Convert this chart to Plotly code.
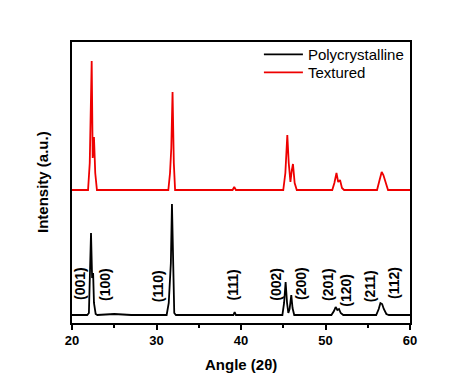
import plotly.graph_objects as go

# ---- data (intensity in arbitrary units, offset already applied) ----
poly_angle = [20.0, 21.0, 21.8, 22.0, 22.1, 22.25, 22.38, 22.5, 22.6, 22.8, 23.0, 25.0, 27.0,
              29.0, 31.2, 31.45, 31.6, 31.7, 31.83, 31.95, 32.1, 32.3, 35.0, 37.0, 39.1, 39.25,
              39.4, 42.0, 44.9, 45.1, 45.28, 45.45, 45.6, 45.75, 45.95, 46.1, 46.3, 48.0,
              50.7, 51.0, 51.2, 51.4, 51.6, 51.8, 52.1, 54.0, 56.0, 56.3, 56.5, 56.7, 56.9,
              57.2, 57.5, 59.0, 60.0]
poly_int = [8, 8, 8, 10, 40, 90, 45, 50, 20, 9, 8, 9, 8,
            8, 8, 20, 38, 60, 119, 50, 10, 8, 8, 8, 8, 11,
            8, 8, 8, 20, 41, 20, 10, 14, 28, 15, 8, 8,
            8, 12, 16, 13, 14, 10, 8, 8, 8, 14, 20, 19, 14,
            9, 8, 8, 8]

tex_angle = [20.0, 21.0, 21.9, 22.1, 22.33, 22.45, 22.6, 22.75, 22.95, 25.0, 28.0,
             31.4, 31.6, 31.75, 31.9, 32.05, 32.2, 35.0, 39.0, 39.2, 39.4, 42.0,
             45.0, 45.25, 45.48, 45.65, 45.85, 46.0, 46.15, 46.35, 46.6, 48.5,
             50.8, 51.05, 51.3, 51.5, 51.72, 51.95, 52.2, 54.0,
             56.1, 56.4, 56.65, 56.85, 57.1, 57.4, 57.7, 60.0]
tex_int = [133, 133, 133, 160, 262, 165, 186, 150, 133, 133, 133,
           133, 150, 175, 231, 160, 133, 133, 133, 136, 133, 133,
           133, 150, 188, 160, 141, 152, 159, 140, 133, 133,
           133, 140, 150, 141, 143, 135, 133, 133,
           133, 143, 151, 148, 140, 133, 133, 133]

hkl_labels = ["(001)", "(100)", "(110)", "(111)", "(002)", "(200)",
              "(201)", "(120)", "(211)", "(112)"]
hkl_angle = [20.95, 23.9, 30.2, 39.1, 44.1, 47.1, 50.3, 52.4, 55.3, 58.1]
hkl_level = [39, 39, 37, 38, 39, 39, 38, 33, 37, 40]

x_ticks = [20, 30, 40, 50, 60]

FONT = "Arial, Liberation Sans"

fig = go.Figure()
fig.add_trace(go.Scatter(x=poly_angle, y=poly_int, mode="lines", name="Polycrystalline",
                         line=dict(color="black", width=1.8), legend="legend", showlegend=True))
fig.add_trace(go.Scatter(x=tex_angle, y=tex_int, mode="lines", name="Textured",
                         line=dict(color="#ee0000", width=1.8), legend="legend2", showlegend=True))

for lab, ang, lev in zip(hkl_labels, hkl_angle, hkl_level):
    fig.add_annotation(x=ang, y=lev, text=lab, textangle=-90, showarrow=False,
                       font=dict(family=FONT, size=14, color="black", weight="bold"))

fig.add_annotation(text="Angle (2θ)", xref="paper", yref="paper", x=0.5, y=0,
                   xanchor="center", yanchor="top", yshift=-31, showarrow=False,
                   font=dict(family=FONT, size=15, color="black", weight="bold"))
fig.add_annotation(text="Intensity (a.u.)", xref="paper", yref="paper", x=0, y=0.5,
                   xanchor="right", yanchor="middle", xshift=-19, textangle=-90, showarrow=False,
                   font=dict(family=FONT, size=15, color="black", weight="bold"))

leg_common = dict(xanchor="left", yanchor="top", bgcolor="rgba(0,0,0,0)",
                  font=dict(size=15, family=FONT, color="black"), itemwidth=39, visible=True)

fig.update_layout(
    width=474, height=377,
    showlegend=True,
    margin=dict(l=64, r=72, t=34, b=62),
    paper_bgcolor="white", plot_bgcolor="white",
    font=dict(family=FONT, color="black"),
    legend=dict(x=0.553, y=1.014, **leg_common),
    legend2=dict(x=0.553, y=1.014 - 18 / 281, **leg_common),
    xaxis=dict(range=[20, 60], tickvals=x_ticks, showgrid=False, zeroline=False,
               showline=True, linecolor="black", linewidth=1.5, mirror=True,
               ticks="outside", ticklen=5, tickwidth=1.5, tickcolor="black",
               minor=dict(ticks="outside", dtick=5, ticklen=3, tickwidth=1.5, tickcolor="black"),
               tickfont=dict(size=13, weight="bold", family=FONT)),
    yaxis=dict(range=[0, 281], showgrid=False, zeroline=False, showticklabels=False,
               showline=True, linecolor="black", linewidth=1.5, mirror=True, ticks=""),
)

fig.write_html("out.html")
